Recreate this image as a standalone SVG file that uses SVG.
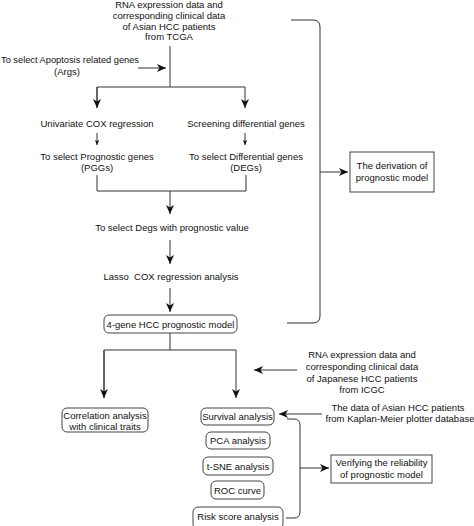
<svg xmlns="http://www.w3.org/2000/svg" width="474" height="526" viewBox="0 0 474 526">
<style>
text{font-family:"Liberation Sans",Arial,sans-serif;font-size:9.5px;fill:#111;text-anchor:middle}
.l{fill:none;stroke:#333;stroke-width:1}
.b{fill:#fff;stroke:#444;stroke-width:1}
</style>
<defs>
<marker id="a" markerUnits="userSpaceOnUse" markerWidth="10" markerHeight="9" refX="9" refY="4" orient="auto"><path d="M0,0 L9,4 L0,8 L2.5,4 z" fill="#111"/></marker>
<marker id="s" markerUnits="userSpaceOnUse" markerWidth="6" markerHeight="5" refX="5" refY="2.2" orient="auto"><path d="M0,0 L5,2.2 L0,4.4 L1.3,2.2 z" fill="#111"/></marker>
</defs>
<rect width="474" height="526" fill="#fff"/>
<g id="connectors">
<path class="l" d="M170,46 V87"/>
<path class="l" d="M138,68 H166" marker-end="url(#a)"/>
<path class="l" d="M97,108 V87 H245 V108" marker-end="url(#a)"/>
<path class="l" d="M97,87 V108" marker-end="url(#a)"/>
<path class="l" d="M97,133 V145" marker-end="url(#s)"/>
<path class="l" d="M245,133 V145" marker-end="url(#s)"/>
<path class="l" d="M97,175 V191 H246 V175"/>
<path class="l" d="M170,191 V214" marker-end="url(#a)"/>
<path class="l" d="M170,240 V264" marker-end="url(#a)"/>
<path class="l" d="M170,288 V312" marker-end="url(#a)"/>
<path class="l" d="M291,20 H313 Q320,20 320,27 V316 Q320,323 313,323 H287"/>
<path class="l" d="M320,172 H348" marker-end="url(#a)"/>
<path class="l" d="M170,333 V350"/>
<path class="l" d="M104,398 V350 H236 V398" marker-end="url(#a)"/>
<path class="l" d="M104,350 V398" marker-end="url(#a)"/>
<path class="l" d="M297,370 H254" marker-end="url(#a)"/>
<path class="l" d="M322,414 H279" marker-end="url(#a)"/>
<path class="l" d="M287,419 H294 Q300,419 300,425 V512 Q300,518 294,518 H286"/>
<path class="l" d="M300,468 H329" marker-end="url(#a)"/>
</g>
<g id="n_tcga"><text x="169" y="8">RNA expression data and</text><text x="169" y="19">corresponding clinical data</text><text x="169" y="30">of Asian HCC patients</text><text x="169" y="40">from TCGA</text></g>
<g id="n_args"><text x="1" y="63" style="text-anchor:start" textLength="138" lengthAdjust="spacingAndGlyphs">To select Apoptosis related genes</text><text x="67" y="75">(Args)</text></g>
<g id="n_cox"><text x="97" y="127">Univariate COX regression</text></g>
<g id="n_screen"><text x="246" y="127">Screening differential genes</text></g>
<g id="n_pggs"><text x="97" y="160">To select Prognostic genes</text><text x="97" y="171">(PGGs)</text></g>
<g id="n_degs"><text x="246" y="160">To select Differential genes</text><text x="246" y="171">(DEGs)</text></g>
<g id="n_prog"><text x="172" y="231">To select Degs with prognostic value</text></g>
<g id="n_lasso"><text x="171" y="280">Lasso&#160; COX regression analysis</text></g>
<g id="n_model"><rect class="b" x="104" y="315" width="133" height="18" rx="5"/><text x="170.5" y="327.5">4-gene HCC prognostic model</text></g>
<g id="n_deriv"><rect class="b" x="350" y="152" width="84" height="40"/><text x="392" y="169">The derivation of</text><text x="392" y="181">prognostic model</text></g>
<g id="n_corr"><rect class="b" x="62" y="408" width="86" height="24" rx="5"/><text x="105" y="419">Correlation analysis</text><text x="105" y="430">with clinical traits</text></g>
<g id="n_icgc"><text x="362" y="358">RNA expression data and</text><text x="362" y="370">corresponding clinical data</text><text x="362" y="382">of Japanese HCC patients</text><text x="362" y="393">from ICGC</text></g>
<g id="n_km"><text x="398" y="411">The data of Asian HCC patients</text><text x="400" y="422">from Kaplan-Meier plotter database</text></g>
<g id="n_surv"><rect class="b" x="201" y="408" width="73" height="17" rx="5"/><text x="237.5" y="420">Survival analysis</text></g>
<g id="n_pca"><rect class="b" x="206" y="432" width="64" height="17" rx="5"/><text x="238" y="444">PCA analysis</text></g>
<g id="n_tsne"><rect class="b" x="203" y="457" width="70" height="18" rx="5"/><text x="238" y="469.5">t-SNE analysis</text></g>
<g id="n_roc"><rect class="b" x="211" y="481" width="53" height="18" rx="5"/><text x="237.5" y="494">ROC curve</text></g>
<g id="n_risk"><rect class="b" x="193" y="507" width="90" height="22" rx="5"/><text x="238" y="520">Risk score analysis</text></g>
<g id="n_verify"><rect class="b" x="331" y="455" width="101" height="28"/><text x="381.5" y="466">Verifying the reliability</text><text x="381.5" y="478">of prognostic model</text></g>
</svg>
